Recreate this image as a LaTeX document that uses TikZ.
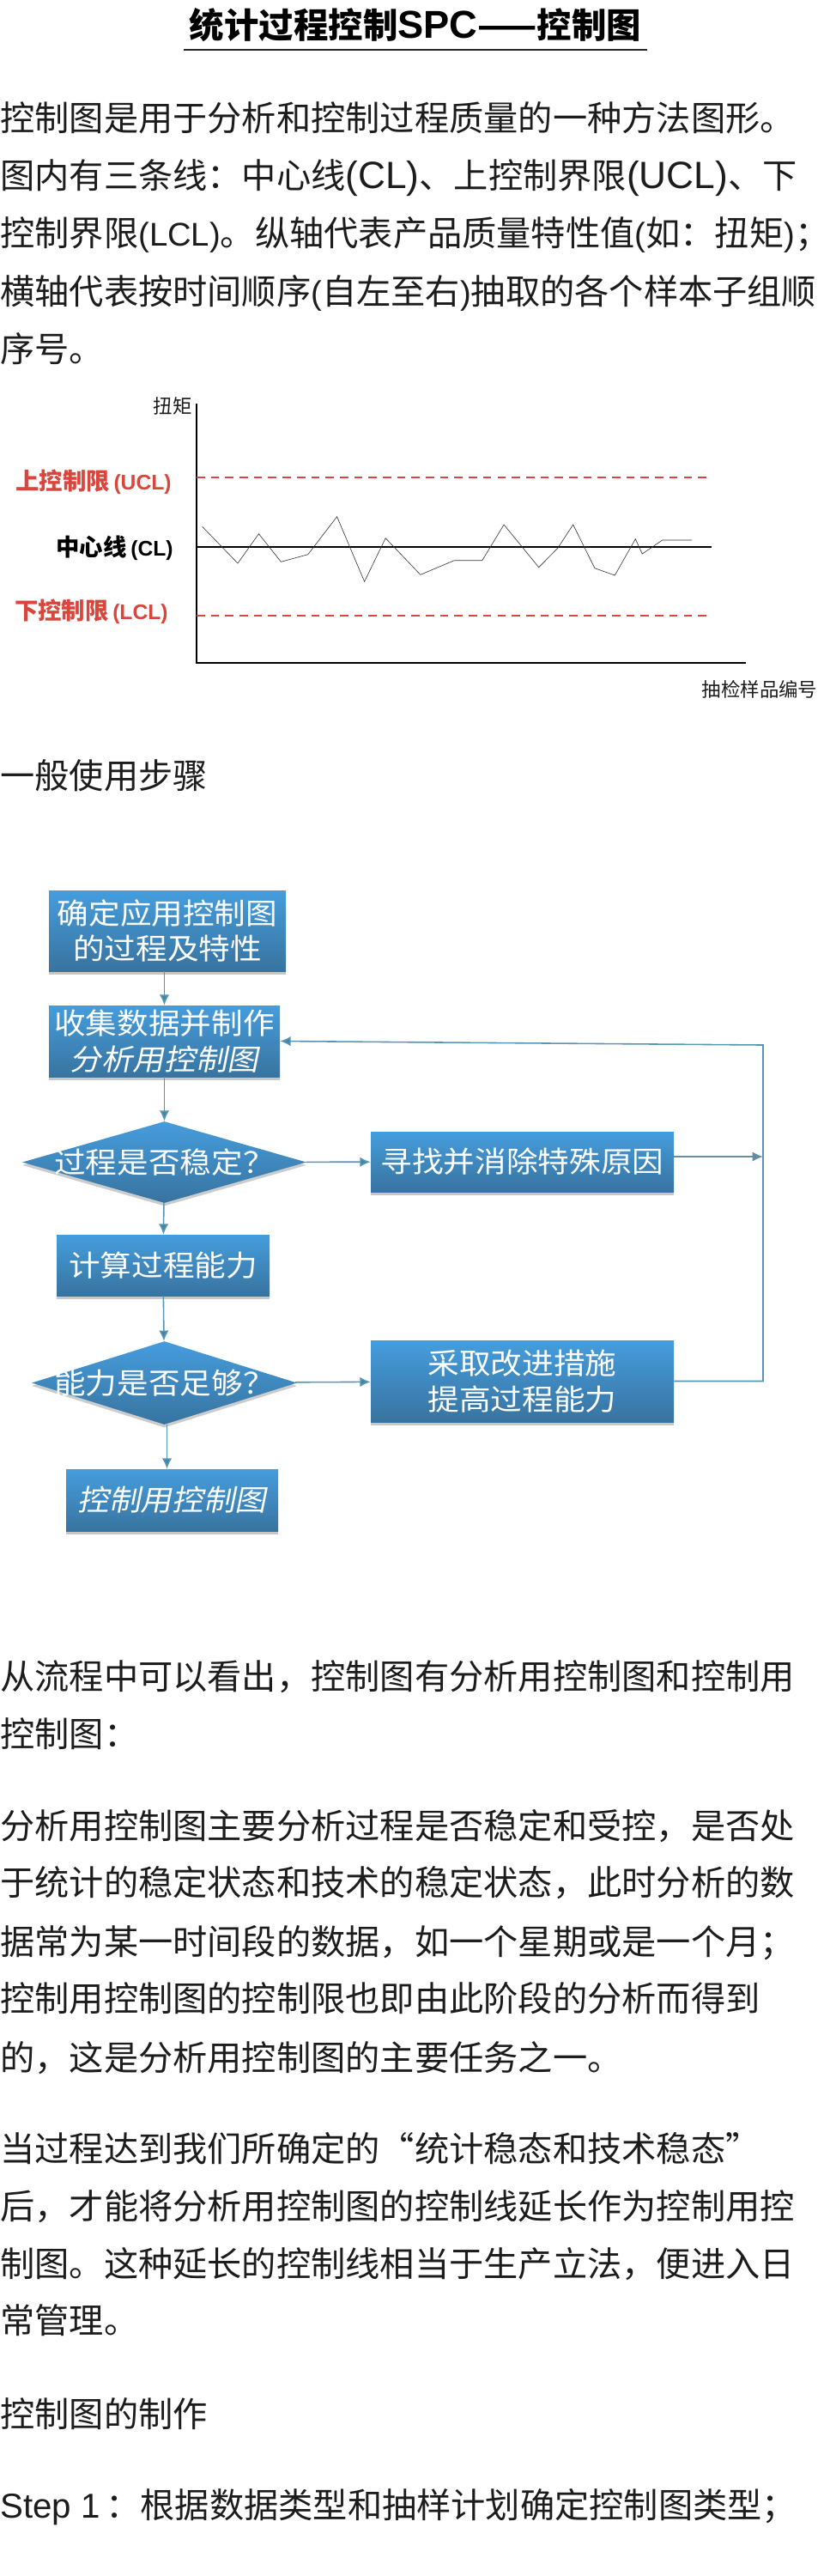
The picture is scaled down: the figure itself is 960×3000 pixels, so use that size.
\documentclass[tikz,border=0pt]{standalone}
\usepackage{fontspec}
\usetikzlibrary{arrows.meta,shapes.geometric,shadows}
\setmainfont{Noto Sans CJK SC}
\newfontfamily\latcap[Scale=1.1]{Liberation Sans}
\newfontfamily\latmid[Scale=0.95]{Liberation Sans}
\newfontfamily\latlow[Scale=1.0]{Liberation Sans}
\newfontfamily\lathead[Scale=1.12]{Liberation Sans}
\newfontfamily\latmark[Scale=0.9]{Liberation Sans}
\newfontfamily\boxfont[FakeStretch=1.08]{Noto Sans CJK SC}
\newfontfamily\boxslant[FakeStretch=1.08,FakeSlant=0.2]{Noto Sans CJK SC}
\definecolor{inktext}{HTML}{1C1C1C}
\definecolor{limitred}{HTML}{D9463E}
\definecolor{boxtop}{HTML}{459DDD}
\definecolor{boxlow}{HTML}{38739F}
\definecolor{flowline}{HTML}{5795B5}
\definecolor{flowtip}{HTML}{3F84AC}
\tikzset{
  bodyline/.style={anchor=west, inner sep=0pt, text=inktext, text height=20pt, text depth=3pt,
    font=\fontsize{22.9}{28}\selectfont},
  headline/.style={inner sep=0pt, text=black, font=\fontsize{23}{28}\selectfont\bfseries},
  limitmark/.style={anchor=east, inner sep=0pt, font=\fontsize{15.6}{19}\selectfont\bfseries},
  axisname/.style={inner sep=0pt, text=inktext, font=\fontsize{12.8}{15}\selectfont},
  flowbox/.style={draw=none, rectangle, inner sep=0pt, align=center, text=white,
    top color=boxtop, bottom color=boxlow,
    drop shadow={shadow xshift=0pt, shadow yshift=-2pt, opacity=0.22, fill=black},
    font=\fontsize{19.3}{23.6}\selectfont\boxfont},
  flowcheck/.style={diamond, draw=none, inner sep=0pt, aspect=3.4, text=white,
    top color=boxtop, bottom color=boxlow,
    drop shadow={shadow xshift=0pt, shadow yshift=-2pt, opacity=0.2, fill=black},
    font=\fontsize{19.3}{23.6}\selectfont\boxfont},
  flowarrow/.style={draw=flowline, line width=0.9pt, -{Latex[length=7pt,width=6.5pt,fill=flowtip]}}
}
\begin{document}
\begin{tikzpicture}[x=0.02cm, y=-0.02cm]
    \useasboundingbox (0, 0) rectangle (960, 3000);
    % heading
    \node (title) [headline] at (484, 29) {统计过程控制{\lathead SPC}——控制图};
    \coordinate (rulea) at (214, 58);
    \coordinate (ruleb) at (754, 58);
    \draw[line width=0.8pt, black!85] (rulea) -- (ruleb);
    % first paragraph
    \draw (0, 138) node (par1a) [bodyline] {控制图是用于分析和控制过程质量的一种方法图形。}
          (0, 205) node (par1b) [bodyline] {图内有三条线：中心线{\latcap(CL)}、上控制界限{\latcap(UCL)}、下}
          (0, 272) node (par1c) [bodyline] {控制界限{\latmid(LCL)}。纵轴代表产品质量特性值{\latmid(}如：扭矩{\latmid)}；}
          (0, 340) node (par1d) [bodyline] {横轴代表按时间顺序{\latmid(}自左至右{\latmid)}抽取的各个样本子组顺}
          (0, 407) node (par1e) [bodyline] {序号。};
    % control chart
    \coordinate (ytop) at (229, 470);
    \coordinate (orig) at (229, 772);
    \coordinate (xend) at (869, 772);
    \draw[line width=1.3pt, black] (ytop) -- (orig) -- (xend);
    \coordinate (ucla) at (229, 556);
    \coordinate (uclb) at (828, 556);
    \coordinate (lcla) at (229, 717);
    \coordinate (lclb) at (828, 717);
    \coordinate (cla) at (229, 637);
    \coordinate (clb) at (829, 637);
    \draw[line width=0.75pt, limitred, dash pattern=on 5.5pt off 4pt] (ucla) -- (uclb);
    \draw[line width=0.75pt, limitred, dash pattern=on 5.5pt off 4pt] (lcla) -- (lclb);
    \draw[line width=1.2pt, black] (cla) -- (clb);
    \draw[line width=0.35pt, black!80]
          (235.7, 613.3) -- (277, 656) -- (301.5, 621.7) -- (327.4, 654.3) -- (358.8, 645.7)
          -- (392.6, 601.7) -- (424.6, 677.3) -- (449.2, 626.7) -- (489.8, 669.3) -- (529.2, 652.7)
          -- (561.8, 652.7) -- (587.1, 611) -- (627.7, 660.7) -- (649.8, 638.3) -- (667.7, 611)
          -- (692.9, 661.7) -- (716.3, 670) -- (740.3, 627.7) -- (748.3, 645) -- (771.7, 629) -- (806.2, 629);
    \draw (201, 473) node (ylabel) [axisname] {扭矩}
          (885, 803) node (xlabel) [axisname] {抽检样品编号}
          (200, 561) node (ucl) [limitmark, text=limitred] {上控制限\,{\latmark(UCL)}}
          (202, 638) node (cl) [limitmark, text=black] {中心线\,{\latmark(CL)}}
          (196, 712) node (lcl) [limitmark, text=limitred] {下控制限\,{\latmark(LCL)}};
    \node (steps) [bodyline] at (0, 904) {一般使用步骤};
    % flow chart
    \node (fix) [flowbox, minimum width=276*0.02cm, minimum height=94*0.02cm] at (195, 1084) {确定应用控制图\\的过程及特性};
    \node (gather) [flowbox, minimum width=269*0.02cm, minimum height=83*0.02cm] at (191.5, 1212.5) {收集数据并制作\\{\boxslant 分析用控制图}};
    \node (stable) [flowcheck, minimum width=331*0.02cm, minimum height=95*0.02cm] at (191.5, 1353.5) {\makebox[0pt]{过程是否稳定？}};
    \node (remove) [flowbox, minimum width=353*0.02cm, minimum height=70*0.02cm] at (608.5, 1353) {寻找并消除特殊原因};
    \node (calc) [flowbox, minimum width=248*0.02cm, minimum height=71*0.02cm] at (190, 1473.5) {计算过程能力};
    \node (enough) [flowcheck, minimum width=309*0.02cm, minimum height=97*0.02cm] at (191.5, 1610.5) {\makebox[0pt]{能力是否足够？}};
    \node (improve) [flowbox, minimum width=353*0.02cm, minimum height=95*0.02cm] at (608.5, 1608.5) {采取改进措施\\提高过程能力};
    \node (final) [flowbox, minimum width=247*0.02cm, minimum height=72*0.02cm] at (200.5, 1747) {{\boxslant 控制用控制图}};
    \coordinate (back) at (889, 1217);
    \coordinate (join) at (889, 1347);
    \draw[flowarrow] (fix.south -| gather.north) -- (gather.north);
    \draw[flowarrow] (gather) -- (stable);
    \draw[flowarrow] (stable) -- (calc);
    \draw[flowarrow] (calc) -- (enough);
    \draw[flowarrow] (enough.south) ++(3, 0) coordinate (enoughout) -- (enoughout |- final.north);
    \draw[flowarrow] (stable) -- (remove);
    \draw[flowarrow] (enough) -- (improve);
    \draw[flowarrow, draw=flowline!70!gray, line width=1.4pt] (remove.east |- join) -- (join);
    \draw[flowarrow] (improve.east) -| (back) -- (gather.east);
    % remaining paragraphs
    \draw (0, 1953) node (par2a) [bodyline] {从流程中可以看出，控制图有分析用控制图和控制用}
          (0, 2020) node (par2b) [bodyline] {控制图：}
          (0, 2127) node (par3a) [bodyline] {分析用控制图主要分析过程是否稳定和受控，是否处}
          (0, 2193) node (par3b) [bodyline] {于统计的稳定状态和技术的稳定状态，此时分析的数}
          (0, 2262) node (par3c) [bodyline] {据常为某一时间段的数据，如一个星期或是一个月；}
          (0, 2328) node (par3d) [bodyline] {控制用控制图的控制限也即由此阶段的分析而得到}
          (0, 2397) node (par3e) [bodyline] {的，这是分析用控制图的主要任务之一。}
          (0, 2503) node (par4a) [bodyline] {当过程达到我们所确定的“统计稳态和技术稳态”}
          (0, 2570) node (par4b) [bodyline] {后，才能将分析用控制图的控制线延长作为控制用控}
          (0, 2637) node (par4c) [bodyline] {制图。这种延长的控制线相当于生产立法，便进入日}
          (0, 2703) node (par4d) [bodyline] {常管理。}
          (0, 2812) node (par5) [bodyline] {控制图的制作}
          (0, 2918) node (par6) [bodyline] {{\latlow Step 1}\,：根据数据类型和抽样计划确定控制图类型；};
\end{tikzpicture}
\end{document}
